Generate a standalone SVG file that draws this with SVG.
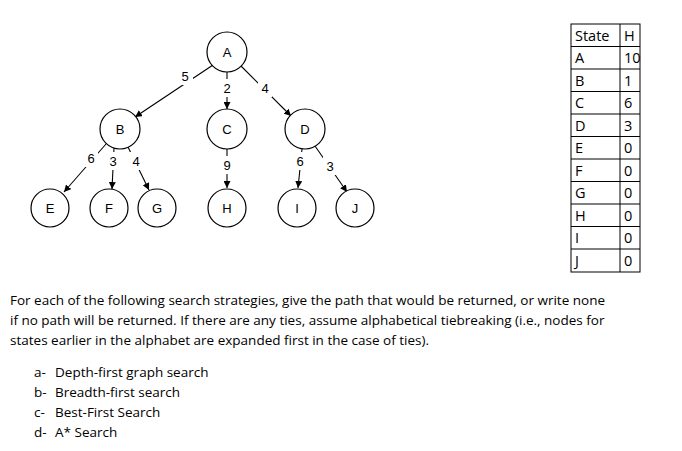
<svg xmlns="http://www.w3.org/2000/svg" width="682" height="451" viewBox="0 0 682 451">
<style>
.n circle{fill:#fff;stroke:#000;stroke-width:1.2}
.n text,.w{font-family:"Liberation Sans",Arial,sans-serif;font-size:13px;text-anchor:middle}
.e line{stroke:#000;stroke-width:1.1;marker-end:url(#ah)}
.m{fill:#fff}
.t{font-family:"Open Sans","Liberation Sans",sans-serif;font-size:13.5px}
.tt{font-family:"Open Sans","Liberation Sans",sans-serif;font-size:14.5px}
.tb line{stroke:#000;stroke-width:1}
</style>
<defs><marker id="ah" viewBox="0 0 10 10" refX="10" refY="5" markerWidth="7" markerHeight="7" orient="auto" markerUnits="userSpaceOnUse"><path d="M0,0L10,5L0,10z"/></marker></defs>
<rect width="682" height="451" fill="#fff"/>
<g id="edges" class="e">
<line x1="213" y1="65" x2="135" y2="117"/>
<line x1="227" y1="72" x2="227" y2="109"/>
<line x1="241" y1="66" x2="291" y2="116"/>
<line x1="106" y1="144" x2="64" y2="192"/>
<line x1="114" y1="148" x2="112" y2="189"/>
<line x1="128" y1="147" x2="149" y2="190"/>
<line x1="227" y1="149" x2="227" y2="188"/>
<line x1="302" y1="149" x2="298" y2="188"/>
<line x1="315" y1="146" x2="347" y2="192"/>
<rect class="m" x="178" y="67" width="15" height="18"/>
<rect class="m" x="220" y="79" width="14" height="18"/>
<rect class="m" x="258" y="79" width="14" height="18"/>
<rect class="m" x="84" y="149" width="14" height="18"/>
<rect class="m" x="106" y="152" width="14" height="18"/>
<rect class="m" x="129" y="152" width="14" height="18"/>
<rect class="m" x="220" y="156" width="14" height="18"/>
<rect class="m" x="293" y="152" width="14" height="18"/>
<rect class="m" x="323" y="157" width="14" height="18"/>
<text class="w" x="185" y="81">5</text>
<text class="w" x="227" y="93">2</text>
<text class="w" x="265" y="93">4</text>
<text class="w" x="91" y="163">6</text>
<text class="w" x="113" y="166">3</text>
<text class="w" x="136" y="166">4</text>
<text class="w" x="227" y="170">9</text>
<text class="w" x="300" y="166">6</text>
<text class="w" x="330" y="171">3</text>
</g>
<g id="A" class="n"><circle cx="227" cy="52" r="20"/><text x="227" y="57">A</text></g>
<g id="B" class="n"><circle cx="120" cy="129" r="20"/><text x="120" y="134">B</text></g>
<g id="C" class="n"><circle cx="227" cy="129" r="20"/><text x="227" y="134">C</text></g>
<g id="D" class="n"><circle cx="305" cy="129" r="20"/><text x="305" y="134">D</text></g>
<g id="E" class="n"><circle cx="50" cy="208" r="19"/><text x="50" y="213">E</text></g>
<g id="F" class="n"><circle cx="109" cy="208" r="19"/><text x="109" y="213">F</text></g>
<g id="G" class="n"><circle cx="157" cy="208" r="19"/><text x="157" y="213">G</text></g>
<g id="H" class="n"><circle cx="227" cy="208" r="19"/><text x="227" y="213">H</text></g>
<g id="I" class="n"><circle cx="297" cy="208" r="19"/><text x="297" y="213">I</text></g>
<g id="J" class="n"><circle cx="355" cy="208" r="19"/><text x="355" y="213">J</text></g>
<g id="table" class="tb">
<rect x="571" y="24" width="69" height="248" fill="none" stroke="#000"/>
<line x1="620" y1="24" x2="620" y2="272"/>
<line x1="571" y1="46.5" x2="640" y2="46.5"/><line x1="571" y1="69" x2="640" y2="69"/><line x1="571" y1="91.5" x2="640" y2="91.5"/><line x1="571" y1="114" x2="640" y2="114"/><line x1="571" y1="136.5" x2="640" y2="136.5"/><line x1="571" y1="159" x2="640" y2="159"/><line x1="571" y1="181.5" x2="640" y2="181.5"/><line x1="571" y1="204" x2="640" y2="204"/><line x1="571" y1="226.5" x2="640" y2="226.5"/><line x1="571" y1="249" x2="640" y2="249"/>
<g class="tt">
<text x="575" y="41">State</text><text x="624" y="41">H</text>
<text x="575" y="63">A</text><text x="624" y="63">10</text>
<text x="575" y="86">B</text><text x="624" y="86">1</text>
<text x="575" y="108">C</text><text x="624" y="108">6</text>
<text x="575" y="131">D</text><text x="624" y="131">3</text>
<text x="575" y="153">E</text><text x="624" y="153">0</text>
<text x="575" y="176">F</text><text x="624" y="176">0</text>
<text x="575" y="198">G</text><text x="624" y="198">0</text>
<text x="575" y="221">H</text><text x="624" y="221">0</text>
<text x="575" y="243">I</text><text x="624" y="243">0</text>
<text x="575" y="266">J</text><text x="624" y="266">0</text>
</g>
</g>
<g class="t">
<text x="10" y="305">For each of the following search strategies, give the path that would be returned, or write none</text>
<text x="10" y="325">if no path will be returned. If there are any ties, assume alphabetical tiebreaking (i.e., nodes for</text>
<text x="10" y="345">states earlier in the alphabet are expanded first in the case of ties).</text>
<text x="34" y="377">a-</text><text x="55" y="377">Depth-first graph search</text>
<text x="34" y="397">b-</text><text x="55" y="397">Breadth-first search</text>
<text x="34" y="417">c-</text><text x="55" y="417">Best-First Search</text>
<text x="34" y="437">d-</text><text x="55" y="437">A* Search</text>
</g>
</svg>
